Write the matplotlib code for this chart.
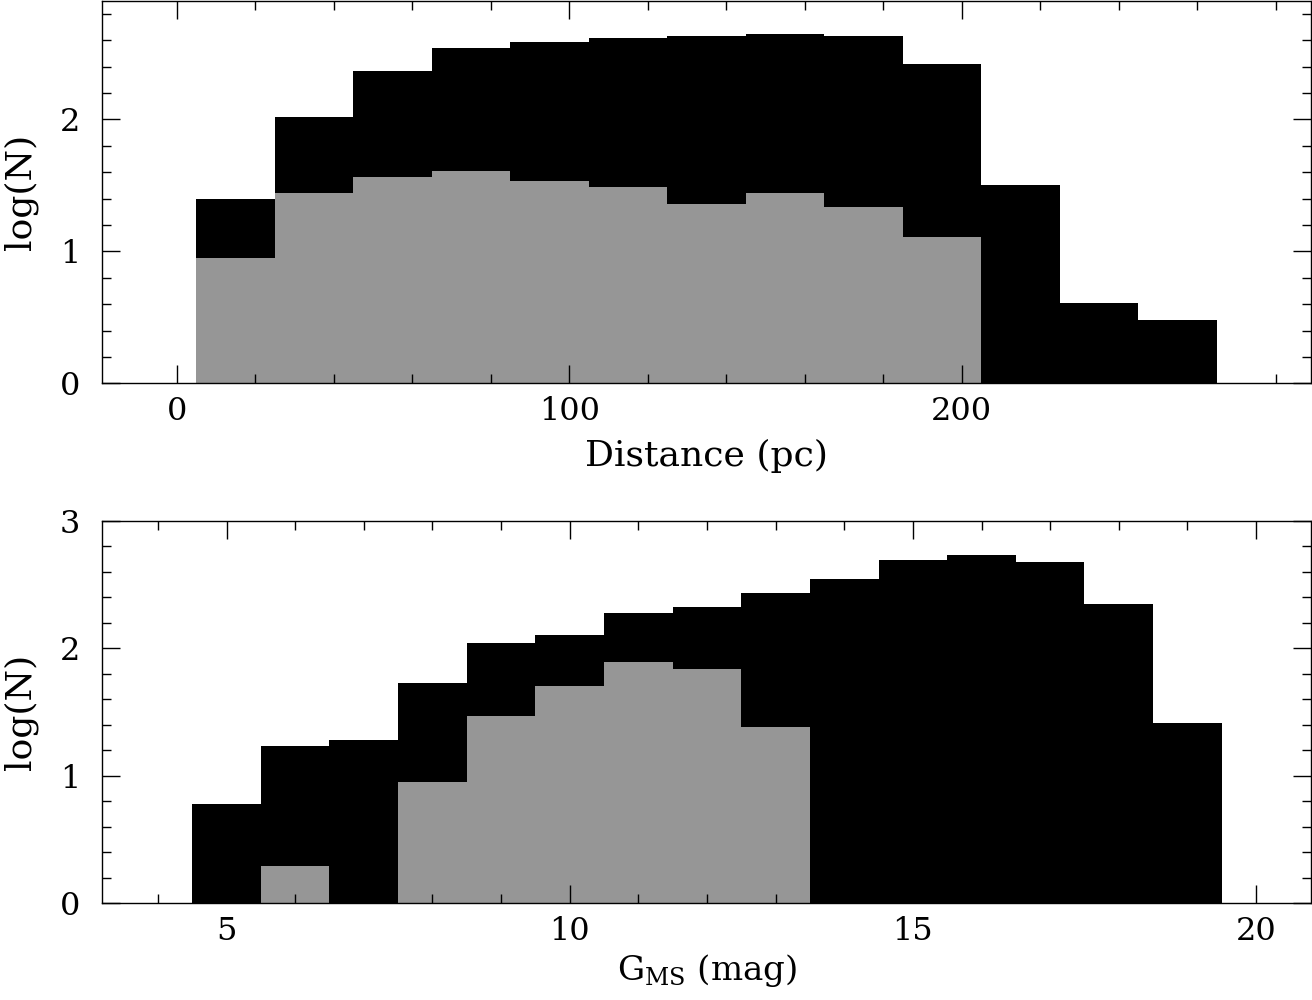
import numpy as np
import matplotlib
matplotlib.use("Agg")
import matplotlib.pyplot as plt

plt.rcParams['font.family'] = ['DejaVu Serif']
plt.rcParams['mathtext.fontset'] = 'dejavuserif'

# ---------------- data ----------------
# top panel: distance histogram (bin left edges, pc), bin width 20 pc
dist_left = [5, 25, 45, 65, 85, 105, 125, 145, 165, 185, 205, 225, 245]
dist_width = 20
dist_all = [1.40, 2.02, 2.37, 2.54, 2.59, 2.62, 2.63, 2.65, 2.63, 2.42, 1.50, 0.61, 0.48]
dist_sub = [0.95, 1.44, 1.56, 1.61, 1.53, 1.49, 1.36, 1.44, 1.34, 1.11, np.nan, np.nan, np.nan]

# bottom panel: G_MS histogram (bin left edges, mag), bin width 1 mag
mag_left = [4.5, 5.5, 6.5, 7.5, 8.5, 9.5, 10.5, 11.5, 12.5, 13.5, 14.5, 15.5, 16.5, 17.5, 18.5]
mag_width = 1.0
mag_all = [0.78, 1.23, 1.28, 1.73, 2.04, 2.10, 2.28, 2.32, 2.43, 2.54, 2.69, 2.73, 2.68, 2.35, 1.41]
mag_sub = [np.nan, 0.29, np.nan, 0.95, 1.47, 1.70, 1.89, 1.84, 1.38,
           np.nan, np.nan, np.nan, np.nan, np.nan, np.nan]

GRAY = '#969696'
FS_TICK = 23
FS_LAB1 = 26
FS_LAB2 = 24.5

fig = plt.figure(figsize=(13.12, 10.0), dpi=100)
W, H = 1312.0, 1000.0

def make_ax(left, top, right, bottom):
    return fig.add_axes([left / W, 1 - bottom / H, (right - left) / W, (bottom - top) / H])

ax1 = make_ax(102.3, 0.7, 1311.0, 383.3)
ax2 = make_ax(102.3, 520.7, 1311.0, 903.3)

def style(ax):
    for s in ax.spines.values():
        s.set_linewidth(1.0)
    ax.tick_params(which='both', direction='in', top=True, right=True,
                   labelsize=FS_TICK, width=1.0)
    ax.tick_params(which='major', length=13)
    ax.tick_params(which='minor', length=6.5)
    ax.tick_params(axis='x', which='major', pad=9)
    ax.tick_params(axis='y', which='major', pad=16)

# top panel
ax1.bar(dist_left, dist_all, width=dist_width, align='edge', color='black', linewidth=0)
ax1.bar(dist_left, dist_sub, width=dist_width, align='edge', color=GRAY, linewidth=0)
ax1.set_xlim(-19, 289)
ax1.set_ylim(0, 2.9)
ax1.set_xticks([0, 100, 200])
ax1.set_xticks(np.arange(0, 290, 20), minor=True)
ax1.set_yticks([0, 1, 2])
ax1.set_yticks(np.arange(0, 2.9, 0.2), minor=True)
style(ax1)
ax1.set_xlabel('Distance (pc)', fontsize=FS_LAB1)
ax1.set_ylabel('log(N)', fontsize=FS_LAB1)
ax1.xaxis.set_label_coords(0.5, -0.146)
ax1.yaxis.set_label_coords(-0.053, 0.5)

# bottom panel
ax2.bar(mag_left, mag_all, width=mag_width, align='edge', color='black', linewidth=0)
ax2.bar(mag_left, mag_sub, width=mag_width, align='edge', color=GRAY, linewidth=0)
ax2.set_xlim(3.19, 20.8)
ax2.set_ylim(0, 3)
ax2.set_xticks([5, 10, 15, 20])
ax2.set_xticks(np.arange(4, 21, 1), minor=True)
ax2.set_yticks([0, 1, 2, 3])
ax2.set_yticks(np.arange(0, 3.01, 0.2), minor=True)
style(ax2)
ax2.set_xlabel(r'G$_{\rm MS}$ (mag)', fontsize=FS_LAB2)
ax2.set_ylabel('log(N)', fontsize=FS_LAB1)
ax2.xaxis.set_label_coords(0.5, -0.128)
ax2.yaxis.set_label_coords(-0.053, 0.5)

fig.savefig('out.png', dpi=100)
